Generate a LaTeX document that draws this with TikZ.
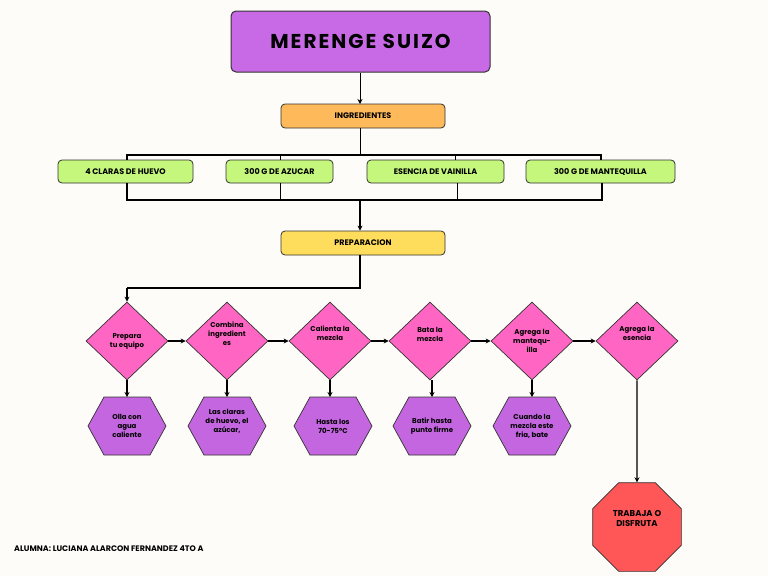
\documentclass[tikz,border=0pt]{standalone}
\usepackage{fontspec}
\setmainfont{Poppins}
\usetikzlibrary{shapes.geometric,calc,arrows.meta}
\definecolor{bg}{HTML}{FDFCF8}
\definecolor{titlec}{HTML}{C86AE6}
\definecolor{orangec}{HTML}{FDB95A}
\definecolor{greenc}{HTML}{C4F77C}
\definecolor{yellowc}{HTML}{FFDD5C}
\definecolor{pinkc}{HTML}{FF66C4}
\definecolor{hexc}{HTML}{C466E0}
\definecolor{redc}{HTML}{FF5757}
\tikzset{
 box/.style={draw=black!80,line width=0.8pt,rounded corners=4pt,font=\bfseries\fontsize{8}{9}\selectfont,inner sep=0pt},
 dia/.style={diamond,draw=black!80,line width=0.7pt,fill=pinkc,minimum width=82pt,minimum height=78pt,inner sep=0pt,align=center,font=\bfseries\fontsize{7}{9}\selectfont},
 hexlbl/.style={align=center,font=\bfseries\fontsize{7}{9}\selectfont,inner sep=0pt},
 hexs/.style={draw=black!80,line width=0.7pt,fill=hexc},
 conn/.style={line width=1.4pt,black},
 arr/.style={line width=1.2pt,black,-{Stealth[length=5pt,width=5pt]}},
}
\begin{document}
\begin{tikzpicture}[x=1pt,y=-1pt]
\fill[bg] (0,0) rectangle (768,576);
\useasboundingbox (0,0) rectangle (768,576);
\node[box,fill=titlec,minimum width=259pt,minimum height=61pt,font=\bfseries\fontsize{20}{24}\selectfont\addfontfeature{LetterSpace=10},rounded corners=5pt,line width=1pt] (title) at (360.5,41.5) {MERENGE SUIZO};
\node[box,fill=orangec,minimum width=164pt,minimum height=24pt] (ing) at (363,116) {INGREDIENTES};
\node[box,fill=greenc,minimum width=135pt,minimum height=23pt] (g1) at (125.5,171.5) {4 CLARAS DE HUEVO};
\node[box,fill=greenc,minimum width=107pt,minimum height=23pt] (g2) at (279.5,171.5) {300 G DE AZUCAR};
\node[box,fill=greenc,minimum width=137pt,minimum height=23pt] (g3) at (435.5,171.5) {ESENCIA DE VAINILLA};
\node[box,fill=greenc,minimum width=149pt,minimum height=23pt] (g4) at (600.5,171.5) {300 G DE MANTEQUILLA};
\node[box,fill=yellowc,minimum width=164pt,minimum height=24pt] (prep) at (363,243) {PREPARACION};
\draw[arr,line width=0.8pt] (title.south -| 360,0) -- (360,104);
% top bus
\coordinate (tb) at (360,155);
\draw[line width=1pt] (360,128) -- (tb);
\draw[conn] (g1.north -| 127,0) -- (127,155) -- (601,155) -- (g4.north -| 601,0);
\draw[line width=0.8pt] (280,155) -- (g2.north -| 280,0);
\draw[line width=0.8pt] (455,155) -- (g3.north -| 455,0);
% bottom bus
\draw[conn] (g1.south -| 127,0) -- (127,200) -- (602,200) -- (g4.south -| 602,0);
\draw[line width=0.8pt] (280,200) -- (g2.south -| 280,0);
\draw[line width=0.8pt] (457,200) -- (g3.south -| 457,0);
\draw[arr] (360,200) -- (prep.north -| 360,0);
% diamonds
\node[dia] (d1) at (127,341) {Prepara\\tu equipo};
\node[dia] (d2) at (227,341) {Combina\\ingredient\\es\\[6pt]};
\node[dia] (d3) at (330,341) {Calienta la\\mezcla\\[6pt]};
\node[dia] (d4) at (430,341) {Bata la\\mezcla\\[4pt]};
\node[dia] (d5) at (532,341) {Agrega la\\mantequ-\\illa};
\node[dia] (d6) at (637,341) {Agrega la\\esencia\\[6pt]};
\draw[conn] (prep.south -| 360,0) -- (360,288) -- (127,288);
\draw[arr] (127,288) -- (d1.north);
\foreach \a/\b in {d1/d2,d2/d3,d3/d4,d4/d5,d5/d6}{\draw[arr] (\a.east) -- (\b.west);}
% hexagons
\foreach \n/\x/\t in {h1/127/{Olla con\\agua\\caliente},h2/227/{Las claras\\de huevo, el\\azúcar,\\[2pt]},h3/333/{Hasta  los\\70-75°C},h4/432/{Batir hasta\\punto firme},h5/532/{Cuando la\\mezcla este\\fria, bate}}{
 \draw[hexs] (\x-39,426) -- (\x-23,397) -- (\x+23,397) -- (\x+39,426) -- (\x+23,455) -- (\x-23,455) -- cycle;
 \node[hexlbl] (\n) at (\x,426) {\t};
}
\foreach \d/\x in {d1/127,d2/227,d3/330,d4/432,d5/532}{\draw[arr] (\d.south -| \x,0) -- (\x,397);}
\node[regular polygon,regular polygon sides=8,draw=black!80,line width=0.7pt,fill=redc,minimum size=96pt,inner sep=0pt,align=center,font=\bfseries\fontsize{8.5}{9.5}\selectfont] (end) at (637,527) {TRABAJA O\\DISFRUTA\\[8pt]};
\draw[arr] (d6.south) -- (end.north);
\node[anchor=west,font=\bfseries\fontsize{8}{9}\selectfont,inner sep=0pt] (foot) at (14,549) {ALUMNA: LUCIANA ALARCON FERNANDEZ 4TO A};
\end{tikzpicture}
\end{document}
